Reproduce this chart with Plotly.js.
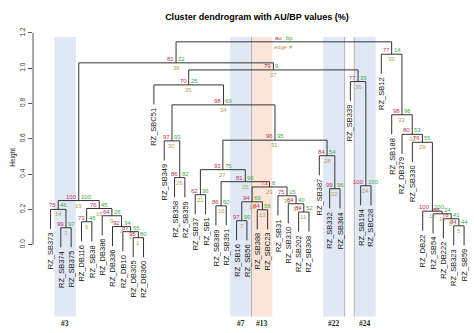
<!DOCTYPE html>
<html><head><meta charset="utf-8">
<script src="https://cdn.plot.ly/plotly-3.0.1.min.js"></script>
<style>html,body{margin:0;padding:0;background:#fff;}#chart{width:474px;height:333px;}</style>
</head><body><div id="chart"></div>
<script>
// ---- data ----
const leafLabels = ['RZ_SB373','RZ_SB374','RZ_SB375','RZ_DB116','RZ_SB38','RZ_DB386','RZ_DB336','RZ_DB10','RZ_DB305','RZ_DB360',
  'RZ_SBC51','RZ_SB349','RZ_SB358','RZ_SB359','RZ_SB37','RZ_SB1','RZ_SB389','RZ_SB391','RZ_SB16','RZ_SB56',
  'RZ_SB388','RZ_SBC23','RZ_SB31','RZ_SB310','RZ_SB202','RZ_SB308','RZ_SB387','RZ_SB332','RZ_SB364','RZ_SB339',
  'RZ_SB194','RZ_SBC28','RZ_SB12','RZ_SB188','RZ_DB379','RZ_SB330','RZ_DB22','RZ_SB54','RZ_DB222','RZ_SB323','RZ_SB59'];
// merges in edge order (negative = leaf index, positive = earlier merge)
const mergeLeft  = [-9,-8,-2,-7,-40,-4,-19,-39,-6,-38,-25,-37,-21,-1,6,-17,-24,7,14,-23,-15,-28,18,-31,16,-13,21,-27,-36,-12,27,-35,-34,30,-11,-30,35,19,-33,38];
const mergeRight = [-10,1,-3,2,-41,-5,-20,5,4,8,-26,10,-22,3,9,-18,11,13,15,17,-16,-29,20,-32,23,-14,25,22,12,26,28,29,32,31,34,24,36,37,33,39];
const mergeHeight = [0.040,0.074,0.096,0.103,0.107,0.130,0.136,0.147,0.164,0.175,0.185,0.190,0.198,0.200,0.205,0.220,0.232,0.243,0.250,0.277,
  0.283,0.317,0.327,0.334,0.357,0.380,0.425,0.504,0.580,0.588,0.592,0.625,0.736,0.792,0.905,0.924,0.990,1.030,1.079,1.149];
const auValues = [95,87,99,92,84,73,97,78,64,88,84,100,84,75,76,86,84,94,100,75,62,99,73,100,81,86,93,84,76,97,96,80,98,98,70,77,79,81,77,'au'];
const bpValues = [80,55,97,34,44,46,90,41,26,24,52,100,56,46,45,60,40,69,100,15,36,96,6,100,96,82,75,54,55,93,95,53,96,69,25,35,9,22,14,'bp'];
const clusterNames = ['#3','#7','#13','#22','#24'];
const clusterFirstLeaf = [2,19,21,28,31];
const clusterLastLeaf = [3,20,22,29,32];
const yTicks = [0,0.2,0.4,0.6,0.8,1.0,1.2];
const yTickText = ['0.0','0.2','0.4','0.6','0.8','1.0','1.2'];

// ---- build ----
const FONT = 'Liberation Sans, Arial, sans-serif';
const AU_C = '#c0344c', BP_C = '#42ad4a', ED_C = '#b8a058';
const LEAF_SIZE = 7.5;
const cvs = document.createElement('canvas').getContext('2d');
cvs.font = LEAF_SIZE + 'px "Liberation Sans"';
const hang = 0.1 * (Math.max(...mergeHeight) - Math.min(...mergeHeight));
const nodeX = [];
const leafEnd = [];
const xs = [], ys = [];
for (let i = 0; i < mergeHeight.length; i++) {
  const h = mergeHeight[i];
  const pos = c => c < 0 ? [-c, h - hang] : [nodeX[c-1], mergeHeight[c-1]];
  const [xl, yl] = pos(mergeLeft[i]);
  const [xr, yr] = pos(mergeRight[i]);
  if (mergeLeft[i] < 0) leafEnd[-mergeLeft[i]-1] = h - hang;
  if (mergeRight[i] < 0) leafEnd[-mergeRight[i]-1] = h - hang;
  nodeX[i] = (xl + xr) / 2;
  xs.push(xl, xl, xr, xr, null);
  ys.push(yl, h, h, yr, null);
}
const ann = [];
leafLabels.forEach((lab, i) => {
  const w = cvs.measureText(lab).width;
  ann.push({x: i+1, y: leafEnd[i], xref:'x', yref:'y', text: lab, showarrow:false, textangle:-90,
    xanchor:'center', yanchor:'middle', yshift:-(w/2 + 3.5), borderpad:0, font:{family:FONT, size:LEAF_SIZE, color:'#111'}});
});
mergeHeight.forEach((h, i) => {
  ann.push({x: nodeX[i], y: h, xref:'x', yref:'y', text: String(auValues[i]), showarrow:false,
    xanchor:'right', yanchor:'middle', xshift:-1, yshift:4, borderpad:0, font:{family:FONT, size:6, color:AU_C}});
  ann.push({x: nodeX[i], y: h, xref:'x', yref:'y', text: String(bpValues[i]), showarrow:false,
    xanchor:'left', yanchor:'middle', xshift:1, yshift:4, borderpad:0, font:{family:FONT, size:6, color:BP_C}});
  ann.push({x: nodeX[i], y: h, xref:'x', yref:'y', text: i === mergeHeight.length-1 ? 'edge #' : String(i+1), showarrow:false,
    xanchor:'center', yanchor:'top', yshift:-1, borderpad:0, font:{family:FONT, size:6, color:ED_C}});
});
const shapes = [];
const fills = ['#e1e8f5','#e1e8f5','#fbe4d8','#e1e8f5','#e1e8f5'];
clusterNames.forEach((nm, k) => {
  const x0 = clusterFirstLeaf[k] - 0.62, x1 = clusterLastLeaf[k] + 0.45;
  shapes.push({type:'rect', xref:'x', yref:'y', x0:x0, x1:x1, y0:-0.407, y1:1.177, fillcolor:fills[k], line:{width:0}, layer:'below'});
  ann.push({x:(x0+x1)/2, y:-0.447, xref:'x', yref:'y', text:'<b>'+nm+'</b>', showarrow:false,
    font:{family:'Liberation Serif, serif', size:7.5, color:'#222'}});
});
// rect edge lines
[[1,'r'],[3,'r'],[4,'l']].forEach(([k, side]) => {
  const xv = side === 'r' ? clusterLastLeaf[k] + 0.45 : clusterFirstLeaf[k] - 0.62;
  shapes.push({type:'line', xref:'x', yref:'y', x0:xv, x1:xv, y0:-0.407, y1:1.177, line:{color:'#b4b4b4', width:1}, layer:'below'});
});
// y axis line
shapes.push({type:'line', xref:'paper', yref:'y', x0:0, x1:0, y0:0, y1:1.2, line:{color:'#555', width:1}});
ann.push({x:-0.059, y:0.498, xref:'paper', yref:'y', text:'Height', showarrow:false, textangle:-90,
  font:{family:FONT, size:6.5, color:'#222'}});

const trace = {x: xs, y: ys, mode:'lines', type:'scatter', line:{color:'#333', width:1}, hoverinfo:'skip', showlegend:false};
const layout = {
  width:474, height:333, margin:{l:33, r:0, t:24, b:0},
  paper_bgcolor:'#fff', plot_bgcolor:'#fff',
  title:{text:'<b>Cluster dendrogram with AU/BP values (%)</b>', font:{family:FONT, size:9, color:'#000'},
    x:0.542, xanchor:'center', xref:'container', y:0.949, yanchor:'middle', yref:'container'},
  xaxis:{range:[-0.69, 41.96], visible:false, fixedrange:true},
  yaxis:{range:[-0.5, 1.25], showgrid:false, zeroline:false, showline:false, ticks:'outside', ticklen:4, tickcolor:'#555',
    tickvals:yTicks, ticktext:yTickText, tickangle:-90, tickfont:{family:FONT, size:6.5, color:'#333'}},
  shapes: shapes, annotations: ann, showlegend:false
};
Plotly.newPlot('chart', [trace], layout, {staticPlot:true});
</script></body></html>
